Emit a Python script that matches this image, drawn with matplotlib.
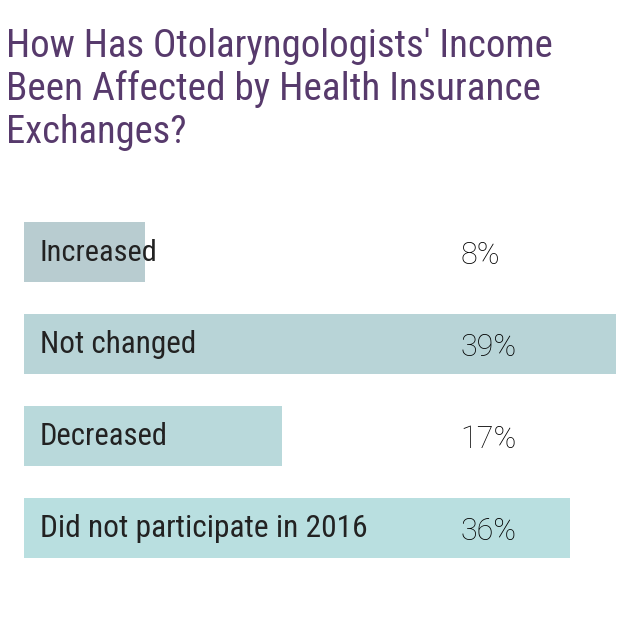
import matplotlib
matplotlib.use("Agg")
from matplotlib import pyplot as plt
from matplotlib import font_manager
from matplotlib.font_manager import FontProperties

# data
categories = ["Increased", "Not changed", "Decreased", "Did not participate in 2016"]
values = [8, 39, 17, 36]
value_labels = ["8%", "39%", "17%", "36%"]
bar_colors = ["#b8ccd0", "#b8d4d7", "#b9d9db", "#b9dfe0"]
title_lines = ["How Has Otolaryngologists' Income",
               "Been Affected by Health Insurance",
               "Exchanges?"]


def pick_narrow_font():
    # look for any condensed / narrow sans face, else fall back to Roboto
    prefs = ["roboto condensed", "open sans condensed", "sans narrow",
             "noto sans condensed", "dejavu sans condensed", "condensed", "narrow"]
    fonts = font_manager.fontManager.ttflist
    for p in prefs:
        for f in fonts:
            key = (f.name + " " + f.fname).lower()
            if p in key and f.style == "normal" and "bold" not in key and "light" not in key \
                    and "mono" not in key and "serif" not in f.name.lower():
                return FontProperties(fname=f.fname)
    for f in fonts:
        if f.stretch in ("condensed", "semi-condensed") and f.style == "normal" \
                and "mono" not in f.name.lower() and "bold" not in f.fname.lower():
            return FontProperties(fname=f.fname)
    return FontProperties(family="Roboto")


narrow = pick_narrow_font()

fig = plt.figure(figsize=(6.40, 6.17), dpi=100)
fig.patch.set_facecolor("white")
renderer = fig.canvas.get_renderer()


def fit_width(t, target_px):
    # scale font size so the drawn text spans target_px
    w = t.get_window_extent(renderer).width
    t.set_fontsize(t.get_fontsize() * target_px / w)


W, H = 640, 617
title_baselines = [57, 100, 143]
title_widths = [547, 534, 180]
for line, yb, tw in zip(title_lines, title_baselines, title_widths):
    t = fig.text(6 / W, 1 - yb / H, line, fontproperties=narrow, fontsize=27,
                 color="#573a6c", va="baseline", ha="left")
    fit_width(t, tw)

ax = fig.add_axes([24 / W, 1 - 574 / H, 592 / W, 368 / H])
y = range(len(categories))
ax.barh(y, values, height=60 / 92, color=bar_colors)
ax.set_xlim(0, 39)
ax.set_ylim(len(categories) - 0.5, -0.5)
ax.axis("off")

trans = ax.get_yaxis_transform()  # x in axes fraction, y in data
label_widths = [118, 156, 128, 329]
for i, (cat, lab, lw) in enumerate(zip(categories, value_labels, label_widths)):
    t = ax.text(16 / 592, i + 9 / 92, cat, transform=trans, fontproperties=narrow,
                fontsize=19, color="#222222", va="baseline", ha="left")
    fit_width(t, lw)
    ax.text(436 / 592, i + 12.5 / 92, lab, transform=trans, family="Roboto",
            fontweight="light", fontsize=22, color="#000000", va="baseline", ha="left")

fig.savefig("out.png", dpi=100, facecolor="white")
